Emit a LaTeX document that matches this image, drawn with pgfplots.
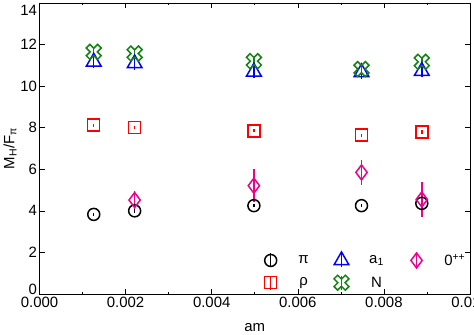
\documentclass[border=0pt]{standalone}
\usepackage{fontspec}
\setmainfont{Liberation Sans}
\usepackage{pgfplots}
\pgfplotsset{compat=1.18}
\definecolor{mgreen}{RGB}{20,130,20}
\pgfdeclareplotmark{fatx}{%
  \pgftransformrotate{45}%
  \pgfpathmoveto{\pgfpoint{0.32\pgfplotmarksize}{\pgfplotmarksize}}%
  \pgfpathlineto{\pgfpoint{0.32\pgfplotmarksize}{0.32\pgfplotmarksize}}%
  \pgfpathlineto{\pgfpoint{\pgfplotmarksize}{0.32\pgfplotmarksize}}%
  \pgfpathlineto{\pgfpoint{\pgfplotmarksize}{-0.32\pgfplotmarksize}}%
  \pgfpathlineto{\pgfpoint{0.32\pgfplotmarksize}{-0.32\pgfplotmarksize}}%
  \pgfpathlineto{\pgfpoint{0.32\pgfplotmarksize}{-\pgfplotmarksize}}%
  \pgfpathlineto{\pgfpoint{-0.32\pgfplotmarksize}{-\pgfplotmarksize}}%
  \pgfpathlineto{\pgfpoint{-0.32\pgfplotmarksize}{-0.32\pgfplotmarksize}}%
  \pgfpathlineto{\pgfpoint{-\pgfplotmarksize}{-0.32\pgfplotmarksize}}%
  \pgfpathlineto{\pgfpoint{-\pgfplotmarksize}{0.32\pgfplotmarksize}}%
  \pgfpathlineto{\pgfpoint{-0.32\pgfplotmarksize}{0.32\pgfplotmarksize}}%
  \pgfpathlineto{\pgfpoint{-0.32\pgfplotmarksize}{\pgfplotmarksize}}%
  \pgfpathclose\pgfusepathqstroke}
\pgfplotstableread{
x y e
0.00126 3.83 0.08
0.00221 4.00 0.08
0.00498 4.25 0.08
0.00748 4.25 0.08
0.00888 4.36 0.08
}\pion
\pgfplotstableread{
x y e
0.00126 8.12 0.08
0.00221 8.01 0.08
0.00498 7.85 0.08
0.00748 7.64 0.08
0.00888 7.80 0.08
}\rho
\pgfplotstableread{
x y e
0.00126 11.17 0.3
0.00221 11.09 0.3
0.00498 10.69 0.3
0.00748 10.66 0.3
0.00888 10.72 0.3
}\aone
\pgfplotstableread{
x y e
0.00126 11.65 0.2
0.00221 11.57 0.2
0.00498 11.20 0.2
0.00748 10.82 0.2
0.00888 11.17 0.2
}\nuc
\pgfplotstableread{
x y e
0.00221 4.52 0.42
0.00498 5.21 0.79
0.00748 5.85 0.62
0.00888 4.55 0.84
}\scal
\begin{document}
\begin{tikzpicture}
\begin{axis}[
  name=ax,
  scale only axis,
  width=430.5bp, height=291bp,
  xmin=0, xmax=0.010, ymin=0, ymax=14,
  xtick={0,0.002,0.004,0.006,0.008,0.010},
  ytick={0,2,4,6,8,10,12,14},
  yticklabels={\raisebox{5bp}[0pt][0pt]{0}\vphantom{0},2,4,6,8,10,12,\raisebox{-7bp}[0pt][0pt]{14}\vphantom{14}},
  minor x tick num=1,
  scaled x ticks=false,
  x tick label style={/pgf/number format/.cd, fixed, fixed zerofill, precision=3},
  /pgf/number format/assume math mode=true,
  tick align=inside,
  major tick length=5bp, minor tick length=2.5bp,
  axis line style={line width=0.8pt},
  tick style={line width=0.6pt, black},
  xlabel={am},
  ylabel={M\textsubscript{H}/F\textsubscript{π}},
  label style={font=\fontsize{15}{17}\selectfont},
  xlabel style={yshift=-9bp},
  ylabel style={yshift=-3bp},
  every tick label/.append style={font=\fontsize{15}{17}\selectfont},
  y tick label style={xshift=1bp},
  error bars/y dir=both, error bars/y explicit,
  error bars/error mark=none,
  legend columns=3,
  legend style={draw=none, fill=none, at={(rel axis cs:0.5,0.152)}, anchor=north west,
    font=\fontsize{15}{17}\selectfont, row sep=6bp,
    /tikz/every odd column/.append style={column sep=11bp},
    /tikz/every even column/.append style={column sep=18bp}},
  legend image code/.code={%
    \draw[#1,mark=none] (12bp,-7bp) -- (12bp,7bp);
    \draw[#1] plot coordinates {(12bp,0bp)};
    \path (0bp,0bp) (26bp,0bp);},
]
\addplot[only marks, black, line width=1.5pt, mark=o, mark size=6bp,
  error bars/error bar style={black, line width=1.5pt}]
  table[x=x, y=y, y error=e] {\pion};
\addlegendentry{π}
\addplot[only marks, blue, line width=1.5pt, mark=triangle, mark size=8.5bp,
  error bars/error bar style={blue, line width=1.5pt}]
  table[x=x, y=y, y error=e] {\aone};
\addlegendentry{a\textsubscript{1}}
\addplot[only marks, magenta, line width=1.5pt, mark=diamond, mark size=7.5bp,
  error bars/error bar style={magenta, line width=1.5pt}]
  table[x=x, y=y, y error=e] {\scal};
\addlegendentry{0\textsuperscript{++}}
\addplot[only marks, red, line width=1.5pt, mark=square, mark size=6bp,
  error bars/error bar style={red, line width=1.5pt}]
  table[x=x, y=y, y error=e] {\rho};
\addlegendentry{ρ}
\addplot[only marks, mgreen, line width=1.5pt, mark=fatx, mark size=8bp,
  error bars/error bar style={mgreen, line width=1.5pt}]
  table[x=x, y=y, y error=e] {\nuc};
\addlegendentry{N}
\end{axis}
\pgfresetboundingbox
\useasboundingbox ([xshift=-39.5bp,yshift=-41bp]ax.south west) rectangle ([xshift=4bp,yshift=3bp]ax.north east);
\end{tikzpicture}
\end{document}
